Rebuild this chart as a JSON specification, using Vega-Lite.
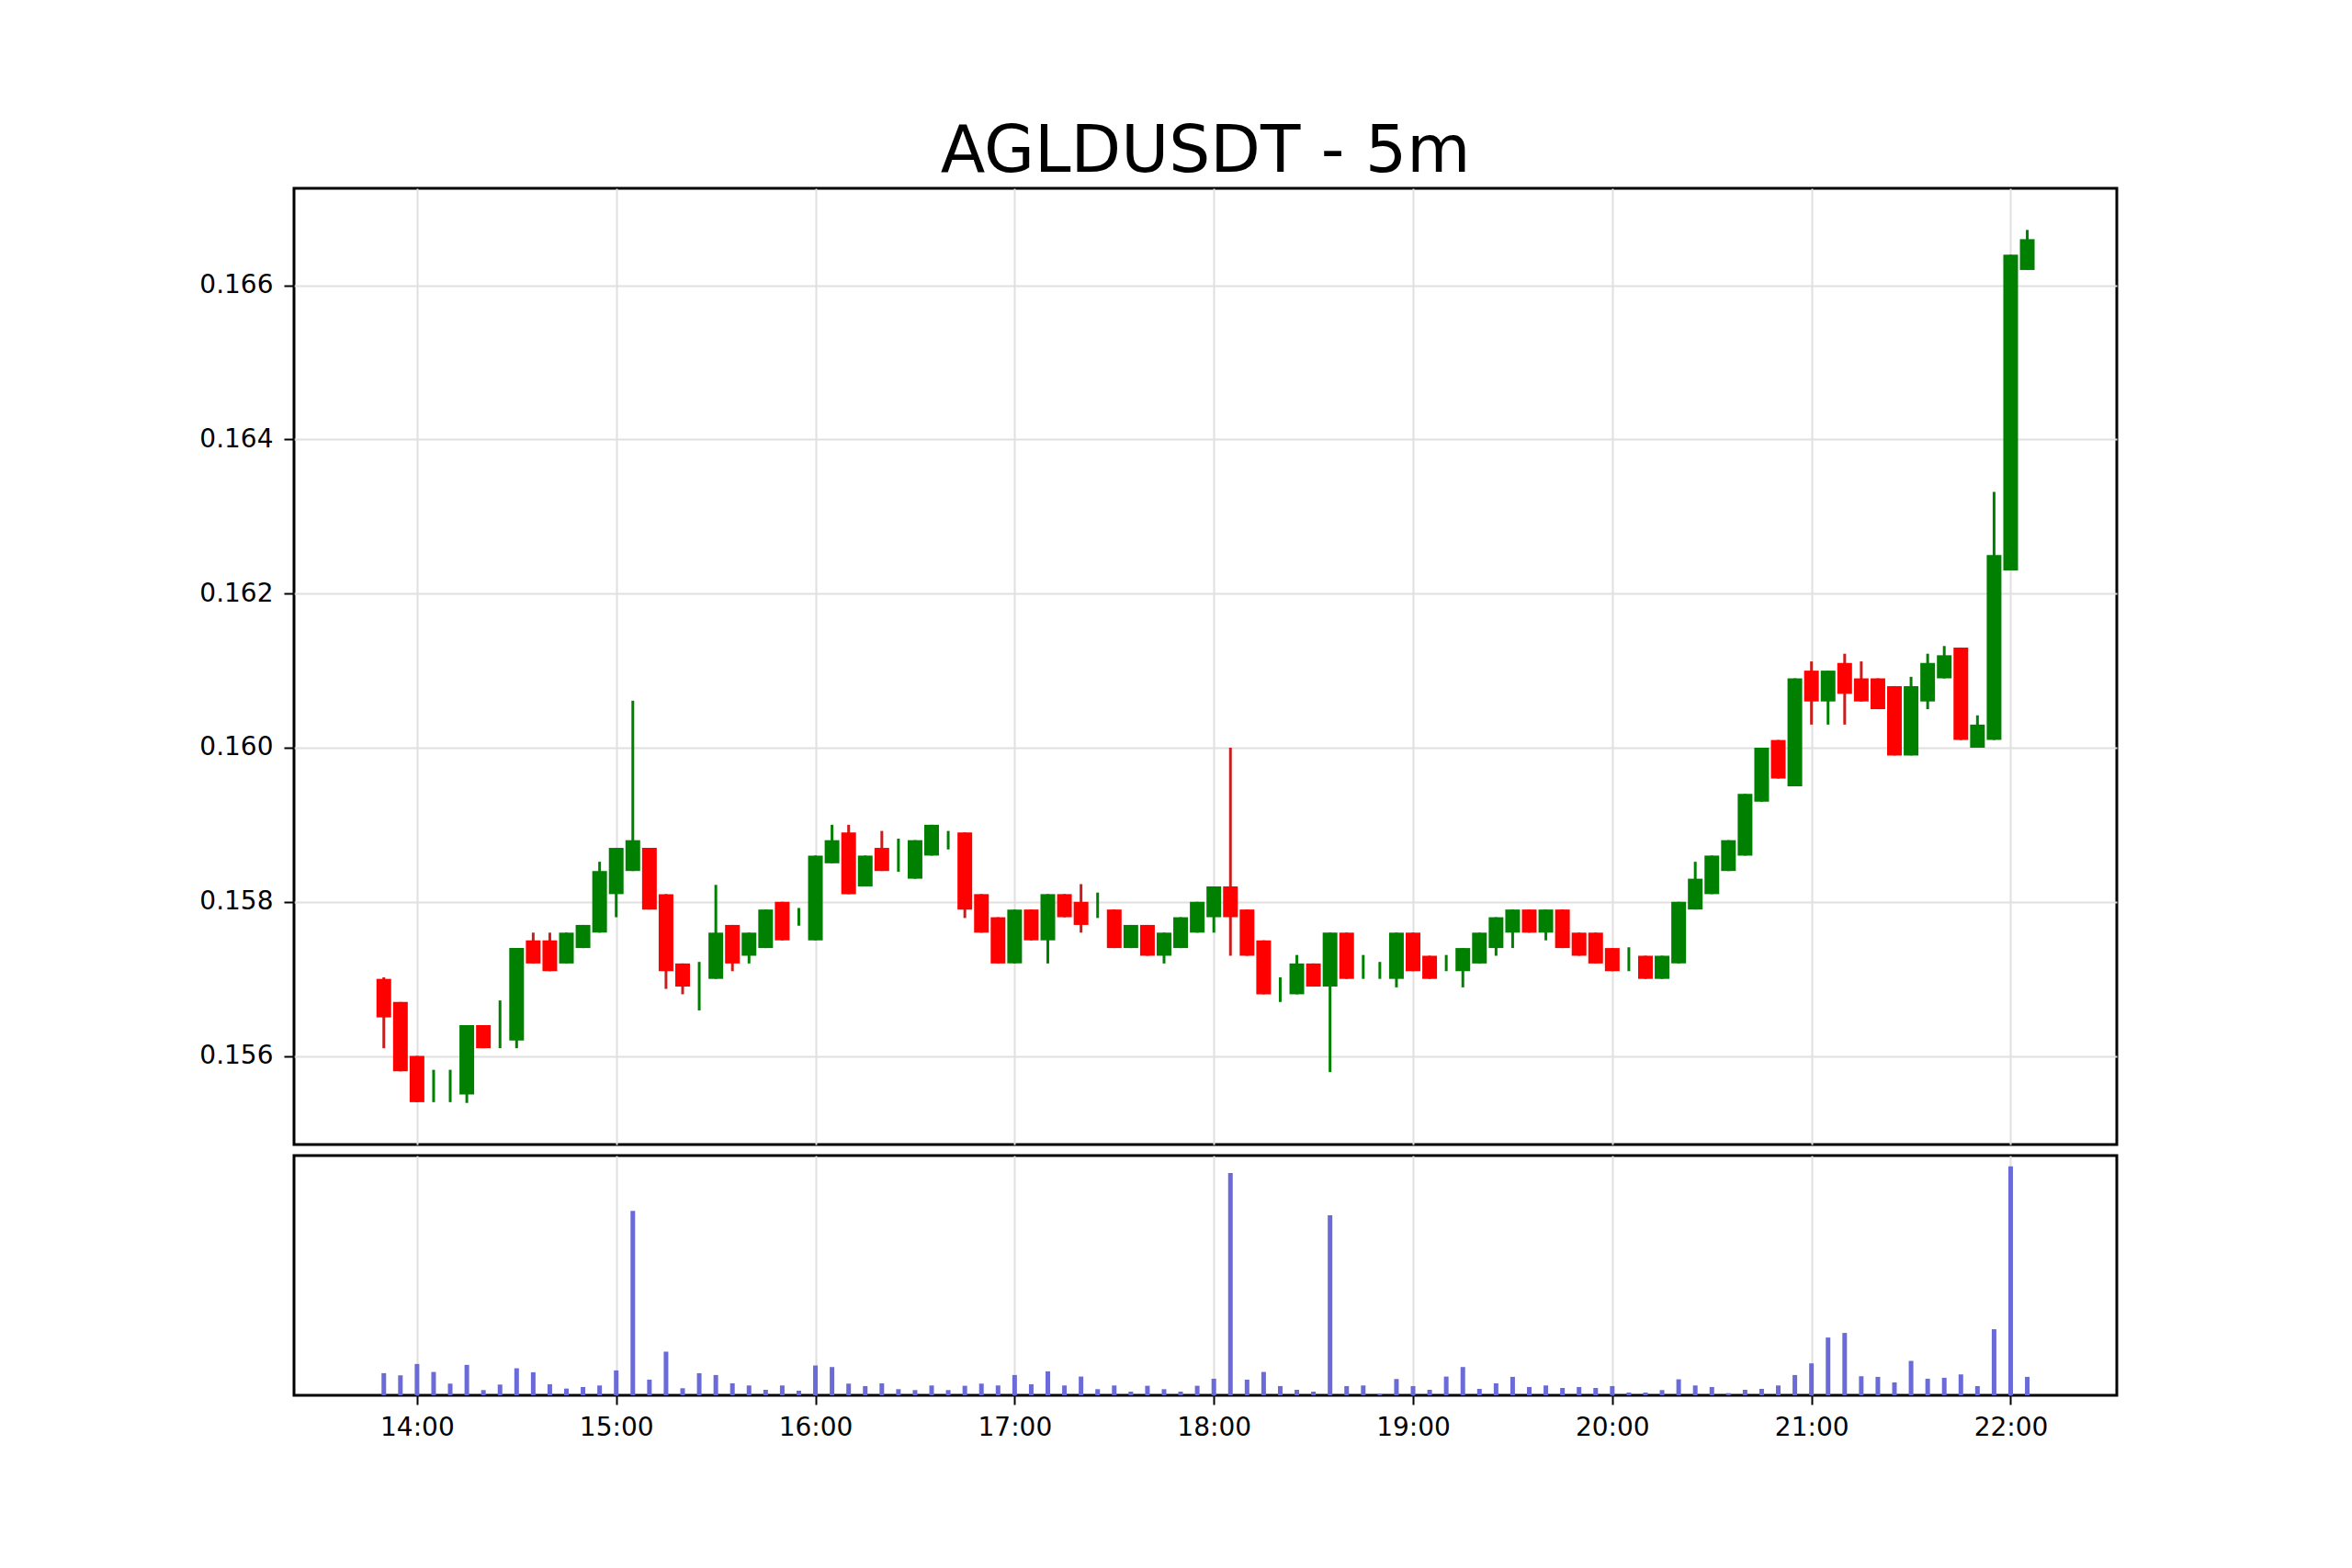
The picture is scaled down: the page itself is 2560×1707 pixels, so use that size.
{
  "$schema": "https://vega.github.io/schema/vega-lite/v6.json",
  "padding": {"left": 215, "top": 128, "right": 0, "bottom": 0},
  "spacing": 8,
  "datasets": {
    "candles": [
      {"t": "2024-01-01T13:50:00Z", "o": 0.1570, "h": 0.15702, "l": 0.1561, "c": 0.1565, "v": 72},
      {"t": "2024-01-01T13:55:00Z", "o": 0.1567, "h": 0.1567, "l": 0.1558, "c": 0.1558, "v": 65},
      {"t": "2024-01-01T14:00:00Z", "o": 0.1560, "h": 0.1560, "l": 0.1554, "c": 0.1554, "v": 102},
      {"t": "2024-01-01T14:05:00Z", "o": 0.1555, "h": 0.15582, "l": 0.1554, "c": 0.1555, "v": 76},
      {"t": "2024-01-01T14:10:00Z", "o": 0.1556, "h": 0.15582, "l": 0.1554, "c": 0.1556, "v": 38},
      {"t": "2024-01-01T14:15:00Z", "o": 0.1555, "h": 0.1564, "l": 0.15539, "c": 0.1564, "v": 99},
      {"t": "2024-01-01T14:20:00Z", "o": 0.1564, "h": 0.1564, "l": 0.1561, "c": 0.1561, "v": 17},
      {"t": "2024-01-01T14:25:00Z", "o": 0.1563, "h": 0.15672, "l": 0.1561, "c": 0.1563, "v": 35},
      {"t": "2024-01-01T14:30:00Z", "o": 0.1562, "h": 0.1574, "l": 0.1561, "c": 0.1574, "v": 88},
      {"t": "2024-01-01T14:35:00Z", "o": 0.1575, "h": 0.1576, "l": 0.1572, "c": 0.1572, "v": 75},
      {"t": "2024-01-01T14:40:00Z", "o": 0.1575, "h": 0.1576, "l": 0.1571, "c": 0.1571, "v": 36},
      {"t": "2024-01-01T14:45:00Z", "o": 0.1572, "h": 0.1576, "l": 0.1572, "c": 0.1576, "v": 22},
      {"t": "2024-01-01T14:50:00Z", "o": 0.1574, "h": 0.1577, "l": 0.1574, "c": 0.1577, "v": 27},
      {"t": "2024-01-01T14:55:00Z", "o": 0.1576, "h": 0.15852, "l": 0.1576, "c": 0.1584, "v": 32},
      {"t": "2024-01-01T15:00:00Z", "o": 0.1581, "h": 0.1587, "l": 0.1578, "c": 0.1587, "v": 81},
      {"t": "2024-01-01T15:05:00Z", "o": 0.1584, "h": 0.16061, "l": 0.1584, "c": 0.1588, "v": 600},
      {"t": "2024-01-01T15:10:00Z", "o": 0.1587, "h": 0.1587, "l": 0.1579, "c": 0.1579, "v": 51},
      {"t": "2024-01-01T15:15:00Z", "o": 0.1581, "h": 0.1581, "l": 0.15687, "c": 0.1571, "v": 142},
      {"t": "2024-01-01T15:20:00Z", "o": 0.1572, "h": 0.1572, "l": 0.1568, "c": 0.1569, "v": 23},
      {"t": "2024-01-01T15:25:00Z", "o": 0.1569, "h": 0.15722, "l": 0.15659, "c": 0.1569, "v": 72},
      {"t": "2024-01-01T15:30:00Z", "o": 0.1570, "h": 0.15822, "l": 0.1570, "c": 0.1576, "v": 66},
      {"t": "2024-01-01T15:35:00Z", "o": 0.1577, "h": 0.1577, "l": 0.1571, "c": 0.1572, "v": 39},
      {"t": "2024-01-01T15:40:00Z", "o": 0.1573, "h": 0.1576, "l": 0.1572, "c": 0.1576, "v": 32},
      {"t": "2024-01-01T15:45:00Z", "o": 0.1574, "h": 0.1579, "l": 0.1574, "c": 0.1579, "v": 18},
      {"t": "2024-01-01T15:50:00Z", "o": 0.1580, "h": 0.1580, "l": 0.1575, "c": 0.1575, "v": 32},
      {"t": "2024-01-01T15:55:00Z", "o": 0.1578, "h": 0.15792, "l": 0.15769, "c": 0.1578, "v": 15},
      {"t": "2024-01-01T16:00:00Z", "o": 0.1575, "h": 0.1586, "l": 0.1575, "c": 0.1586, "v": 97},
      {"t": "2024-01-01T16:05:00Z", "o": 0.1585, "h": 0.1590, "l": 0.1585, "c": 0.1588, "v": 92},
      {"t": "2024-01-01T16:10:00Z", "o": 0.1589, "h": 0.1590, "l": 0.1581, "c": 0.1581, "v": 38},
      {"t": "2024-01-01T16:15:00Z", "o": 0.1582, "h": 0.1586, "l": 0.1582, "c": 0.1586, "v": 30},
      {"t": "2024-01-01T16:20:00Z", "o": 0.1587, "h": 0.15892, "l": 0.1584, "c": 0.1584, "v": 39},
      {"t": "2024-01-01T16:25:00Z", "o": 0.1587, "h": 0.15882, "l": 0.15839, "c": 0.1587, "v": 20},
      {"t": "2024-01-01T16:30:00Z", "o": 0.1583, "h": 0.1588, "l": 0.1583, "c": 0.1588, "v": 17},
      {"t": "2024-01-01T16:35:00Z", "o": 0.1586, "h": 0.1590, "l": 0.1586, "c": 0.1590, "v": 32},
      {"t": "2024-01-01T16:40:00Z", "o": 0.1589, "h": 0.15892, "l": 0.15868, "c": 0.1589, "v": 17},
      {"t": "2024-01-01T16:45:00Z", "o": 0.1589, "h": 0.1589, "l": 0.15779, "c": 0.1579, "v": 31},
      {"t": "2024-01-01T16:50:00Z", "o": 0.1581, "h": 0.1581, "l": 0.1576, "c": 0.1576, "v": 38},
      {"t": "2024-01-01T16:55:00Z", "o": 0.1578, "h": 0.1578, "l": 0.1572, "c": 0.1572, "v": 32},
      {"t": "2024-01-01T17:00:00Z", "o": 0.1572, "h": 0.1579, "l": 0.1572, "c": 0.1579, "v": 66},
      {"t": "2024-01-01T17:05:00Z", "o": 0.1579, "h": 0.1579, "l": 0.1575, "c": 0.1575, "v": 36},
      {"t": "2024-01-01T17:10:00Z", "o": 0.1575, "h": 0.1581, "l": 0.1572, "c": 0.1581, "v": 78},
      {"t": "2024-01-01T17:15:00Z", "o": 0.1581, "h": 0.1581, "l": 0.1578, "c": 0.1578, "v": 32},
      {"t": "2024-01-01T17:20:00Z", "o": 0.1580, "h": 0.15823, "l": 0.1576, "c": 0.1577, "v": 61},
      {"t": "2024-01-01T17:25:00Z", "o": 0.1580, "h": 0.15812, "l": 0.15779, "c": 0.1580, "v": 20},
      {"t": "2024-01-01T17:30:00Z", "o": 0.1579, "h": 0.1579, "l": 0.1574, "c": 0.1574, "v": 32},
      {"t": "2024-01-01T17:35:00Z", "o": 0.1574, "h": 0.1577, "l": 0.1574, "c": 0.1577, "v": 12},
      {"t": "2024-01-01T17:40:00Z", "o": 0.1577, "h": 0.1577, "l": 0.1573, "c": 0.1573, "v": 31},
      {"t": "2024-01-01T17:45:00Z", "o": 0.1573, "h": 0.1576, "l": 0.1572, "c": 0.1576, "v": 20},
      {"t": "2024-01-01T17:50:00Z", "o": 0.1574, "h": 0.1578, "l": 0.1574, "c": 0.1578, "v": 12},
      {"t": "2024-01-01T17:55:00Z", "o": 0.1576, "h": 0.1580, "l": 0.1576, "c": 0.1580, "v": 31},
      {"t": "2024-01-01T18:00:00Z", "o": 0.1578, "h": 0.1582, "l": 0.1576, "c": 0.1582, "v": 54},
      {"t": "2024-01-01T18:05:00Z", "o": 0.1582, "h": 0.1600, "l": 0.1573, "c": 0.1578, "v": 723},
      {"t": "2024-01-01T18:10:00Z", "o": 0.1579, "h": 0.1579, "l": 0.1573, "c": 0.1573, "v": 51},
      {"t": "2024-01-01T18:15:00Z", "o": 0.1575, "h": 0.1575, "l": 0.1568, "c": 0.1568, "v": 76},
      {"t": "2024-01-01T18:20:00Z", "o": 0.1569, "h": 0.15702, "l": 0.1567, "c": 0.1569, "v": 30},
      {"t": "2024-01-01T18:25:00Z", "o": 0.1568, "h": 0.15731, "l": 0.1568, "c": 0.1572, "v": 18},
      {"t": "2024-01-01T18:30:00Z", "o": 0.1572, "h": 0.1572, "l": 0.1569, "c": 0.1569, "v": 12},
      {"t": "2024-01-01T18:35:00Z", "o": 0.1569, "h": 0.1576, "l": 0.15579, "c": 0.1576, "v": 586},
      {"t": "2024-01-01T18:40:00Z", "o": 0.1576, "h": 0.1576, "l": 0.1570, "c": 0.1570, "v": 30},
      {"t": "2024-01-01T18:45:00Z", "o": 0.1571, "h": 0.15731, "l": 0.1570, "c": 0.1571, "v": 32},
      {"t": "2024-01-01T18:50:00Z", "o": 0.1571, "h": 0.15722, "l": 0.1570, "c": 0.1571, "v": 5},
      {"t": "2024-01-01T18:55:00Z", "o": 0.1570, "h": 0.1576, "l": 0.15689, "c": 0.1576, "v": 53},
      {"t": "2024-01-01T19:00:00Z", "o": 0.1576, "h": 0.1576, "l": 0.1571, "c": 0.1571, "v": 30},
      {"t": "2024-01-01T19:05:00Z", "o": 0.1573, "h": 0.1573, "l": 0.1570, "c": 0.1570, "v": 18},
      {"t": "2024-01-01T19:10:00Z", "o": 0.1572, "h": 0.15731, "l": 0.1571, "c": 0.1572, "v": 61},
      {"t": "2024-01-01T19:15:00Z", "o": 0.1571, "h": 0.1574, "l": 0.15689, "c": 0.1574, "v": 92},
      {"t": "2024-01-01T19:20:00Z", "o": 0.1572, "h": 0.1576, "l": 0.1572, "c": 0.1576, "v": 21},
      {"t": "2024-01-01T19:25:00Z", "o": 0.1574, "h": 0.1578, "l": 0.1573, "c": 0.1578, "v": 39},
      {"t": "2024-01-01T19:30:00Z", "o": 0.1576, "h": 0.1579, "l": 0.1574, "c": 0.1579, "v": 60},
      {"t": "2024-01-01T19:35:00Z", "o": 0.1579, "h": 0.1579, "l": 0.1576, "c": 0.1576, "v": 27},
      {"t": "2024-01-01T19:40:00Z", "o": 0.1576, "h": 0.1579, "l": 0.1575, "c": 0.1579, "v": 32},
      {"t": "2024-01-01T19:45:00Z", "o": 0.1579, "h": 0.1579, "l": 0.1574, "c": 0.1574, "v": 24},
      {"t": "2024-01-01T19:50:00Z", "o": 0.1576, "h": 0.1576, "l": 0.1573, "c": 0.1573, "v": 27},
      {"t": "2024-01-01T19:55:00Z", "o": 0.1576, "h": 0.1576, "l": 0.1572, "c": 0.1572, "v": 24},
      {"t": "2024-01-01T20:00:00Z", "o": 0.1574, "h": 0.1574, "l": 0.1571, "c": 0.1571, "v": 30},
      {"t": "2024-01-01T20:05:00Z", "o": 0.1572, "h": 0.15741, "l": 0.1571, "c": 0.1572, "v": 9},
      {"t": "2024-01-01T20:10:00Z", "o": 0.1573, "h": 0.1573, "l": 0.1570, "c": 0.1570, "v": 9},
      {"t": "2024-01-01T20:15:00Z", "o": 0.1570, "h": 0.1573, "l": 0.1570, "c": 0.1573, "v": 17},
      {"t": "2024-01-01T20:20:00Z", "o": 0.1572, "h": 0.1580, "l": 0.1572, "c": 0.1580, "v": 52},
      {"t": "2024-01-01T20:25:00Z", "o": 0.1579, "h": 0.15852, "l": 0.1579, "c": 0.1583, "v": 32},
      {"t": "2024-01-01T20:30:00Z", "o": 0.1581, "h": 0.1586, "l": 0.1581, "c": 0.1586, "v": 27},
      {"t": "2024-01-01T20:35:00Z", "o": 0.1584, "h": 0.1588, "l": 0.1584, "c": 0.1588, "v": 7},
      {"t": "2024-01-01T20:40:00Z", "o": 0.1586, "h": 0.1594, "l": 0.1586, "c": 0.1594, "v": 18},
      {"t": "2024-01-01T20:45:00Z", "o": 0.1593, "h": 0.1600, "l": 0.1593, "c": 0.1600, "v": 21},
      {"t": "2024-01-01T20:50:00Z", "o": 0.1601, "h": 0.1601, "l": 0.1596, "c": 0.1596, "v": 32},
      {"t": "2024-01-01T20:55:00Z", "o": 0.1595, "h": 0.1609, "l": 0.1595, "c": 0.1609, "v": 66},
      {"t": "2024-01-01T21:00:00Z", "o": 0.1610, "h": 0.16112, "l": 0.1603, "c": 0.1606, "v": 104},
      {"t": "2024-01-01T21:05:00Z", "o": 0.1606, "h": 0.1610, "l": 0.1603, "c": 0.1610, "v": 188},
      {"t": "2024-01-01T21:10:00Z", "o": 0.1611, "h": 0.16122, "l": 0.1603, "c": 0.1607, "v": 203},
      {"t": "2024-01-01T21:15:00Z", "o": 0.1609, "h": 0.16112, "l": 0.1606, "c": 0.1606, "v": 62},
      {"t": "2024-01-01T21:20:00Z", "o": 0.1609, "h": 0.1609, "l": 0.1605, "c": 0.1605, "v": 60},
      {"t": "2024-01-01T21:25:00Z", "o": 0.1608, "h": 0.1608, "l": 0.1599, "c": 0.1599, "v": 42},
      {"t": "2024-01-01T21:30:00Z", "o": 0.1599, "h": 0.16092, "l": 0.1599, "c": 0.1608, "v": 112},
      {"t": "2024-01-01T21:35:00Z", "o": 0.1606, "h": 0.16122, "l": 0.1605, "c": 0.1611, "v": 54},
      {"t": "2024-01-01T21:40:00Z", "o": 0.1609, "h": 0.16132, "l": 0.1609, "c": 0.1612, "v": 57},
      {"t": "2024-01-01T21:45:00Z", "o": 0.1613, "h": 0.1613, "l": 0.1601, "c": 0.1601, "v": 68},
      {"t": "2024-01-01T21:50:00Z", "o": 0.1600, "h": 0.16042, "l": 0.1600, "c": 0.1603, "v": 30},
      {"t": "2024-01-01T21:55:00Z", "o": 0.1601, "h": 0.16332, "l": 0.1601, "c": 0.1625, "v": 215},
      {"t": "2024-01-01T22:00:00Z", "o": 0.1623, "h": 0.1664, "l": 0.1623, "c": 0.1664, "v": 745},
      {"t": "2024-01-01T22:05:00Z", "o": 0.1662, "h": 0.16672, "l": 0.1662, "c": 0.1666, "v": 60}
    ]
  },
  "vconcat": [
    {
      "title": {"text": "AGLDUSDT - 5m", "fontSize": 71, "font": "DejaVu Sans", "fontWeight": "normal", "color": "black", "offset": 3, "anchor": "middle"},
      "width": 1984,
      "height": 1041,
      "data": {"name": "candles"},
      "layer": [
        {
          "mark": {"type": "rule", "strokeWidth": 3},
          "encoding": {
            "x": {
              "field": "t",
              "type": "temporal",
              "scale": {"type": "utc", "domain": [1704115460000, 1704148235000]},
              "axis": {"labels": false, "ticks": false, "grid": true, "title": null, "values": [1704117600000, 1704121200000, 1704124800000, 1704128400000, 1704132000000, 1704135600000, 1704139200000, 1704142800000, 1704146400000]}
            },
            "y": {
              "field": "l",
              "type": "quantitative",
              "scale": {"domain": [0.15485, 0.16726], "zero": false, "nice": false},
              "axis": {"values": [0.156, 0.158, 0.160, 0.162, 0.164, 0.166], "format": ".3f", "grid": true, "title": null, "tickSize": 11, "labelPadding": 12}
            },
            "y2": {"field": "h"},
            "color": {"condition": {"test": "datum.c >= datum.o", "value": "#008000"}, "value": "#c81e1e"}
          }
        },
        {
          "mark": {"type": "bar", "width": 16},
          "encoding": {
            "x": {"field": "t", "type": "temporal"},
            "y": {"field": "o", "type": "quantitative"},
            "y2": {"field": "c"},
            "color": {"condition": {"test": "datum.c >= datum.o", "value": "#008000"}, "value": "#ff0000"}
          }
        }
      ]
    },
    {
      "width": 1984,
      "height": 261,
      "data": {"name": "candles"},
      "mark": {"type": "bar", "width": 5, "color": "#6a6ad8"},
      "encoding": {
        "x": {
          "field": "t",
          "type": "temporal",
          "scale": {"type": "utc", "domain": [1704115460000, 1704148235000]},
          "axis": {"grid": true, "title": null, "format": "%H:%M", "tickSize": 10, "labelPadding": 11, "values": [1704117600000, 1704121200000, 1704124800000, 1704128400000, 1704132000000, 1704135600000, 1704139200000, 1704142800000, 1704146400000]}
        },
        "y": {"field": "v", "type": "quantitative", "scale": {"domain": [0, 780]}, "axis": null}
      }
    }
  ],
  "config": {
    "font": "DejaVu Sans",
    "background": "white",
    "view": {"stroke": "black", "strokeWidth": 3},
    "axis": {
      "domain": false,
      "gridColor": "#e0e0e0",
      "gridWidth": 2,
      "labelFont": "DejaVu Sans",
      "labelFontSize": 28,
      "labelColor": "black",
      "tickColor": "black",
      "tickWidth": 2
    }
  }
}
